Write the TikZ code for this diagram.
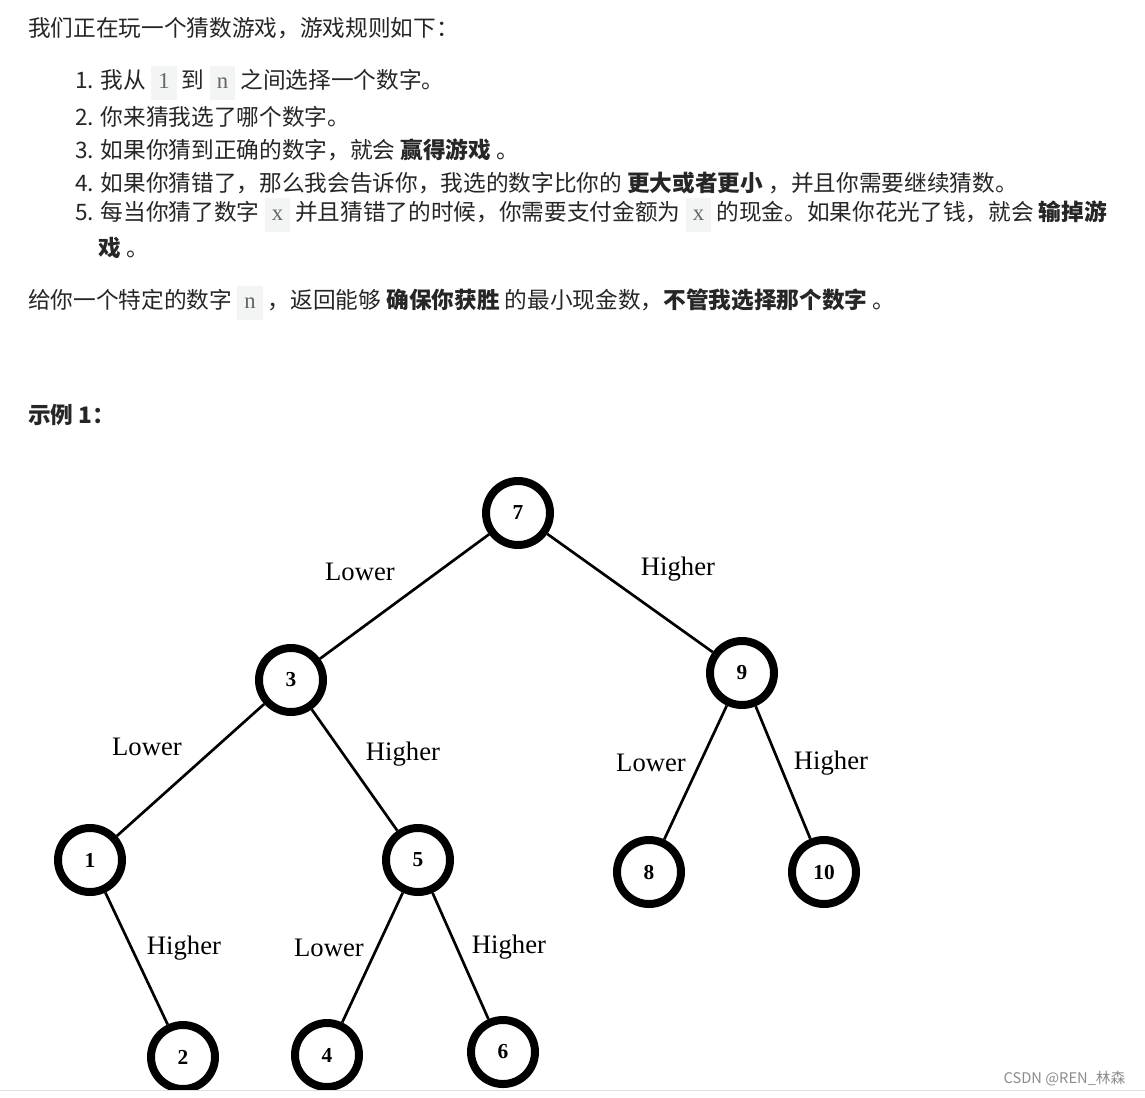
\documentclass[tikz,border=0pt]{standalone}
\usepackage{fontspec}
\setmainfont{Noto Sans CJK SC}
\newfontfamily\serif{Liberation Serif}
\setmonofont{Liberation Mono}
\definecolor{codebg}{HTML}{F3F4F4}
\definecolor{txt}{HTML}{262626}
\newcommand\cd[1]{{\setlength\fboxsep{2.5pt}\colorbox{codebg}{\color{black!60}\serif\strut\,#1\,}}}
\begin{document}
\begin{tikzpicture}[x=0.75pt,y=-0.75pt,
  line/.style={anchor=west,inner sep=0,font=\fontsize{17}{20}\selectfont,text=txt},
  tnode/.style={circle,draw,line width=6pt,minimum size=64*0.75pt,inner sep=0,font=\serif\bfseries\fontsize{16}{18}\selectfont},
  elab/.style={font=\serif\fontsize{20}{22}\selectfont},
  edge/.style={line width=2pt}]
\useasboundingbox (0,0) rectangle (1145,1097);
\fill[white] (0,0) rectangle (1145,1097);
\node[line] (t0) at (28,28) {我们正在玩一个猜数游戏，游戏规则如下：};
\node[line] (t1) at (75,83) {1. 我从 \cd{1} 到 \cd{n} 之间选择一个数字。};
\node[line] (t2) at (75,117) {2. 你来猜我选了哪个数字。};
\node[line] (t3) at (75,150) {3. 如果你猜到正确的数字，就会 {\bfseries 赢得游戏} 。};
\node[line] (t4) at (75,183) {4. 如果你猜错了，那么我会告诉你，我选的数字比你的 {\bfseries 更大或者更小} ，并且你需要继续猜数。};
\node[line] (t5) at (75,215) {5. 每当你猜了数字 \cd{x} 并且猜错了的时候，你需要支付金额为 \cd{x} 的现金。如果你花光了钱，就会 {\bfseries 输掉游}};
\node[line] (t6) at (98,248) {{\bfseries 戏} 。};
\node[line] (t7) at (28,303) {给你一个特定的数字 \cd{n} ，返回能够 {\bfseries 确保你获胜} 的最小现金数，{\bfseries 不管我选择那个数字} 。};
\node[line] (t8) at (28,415) {{\bfseries 示例 1：}};
\node[tnode] (n7) at (518,513) {7};
\node[tnode] (n3) at (291,680) {3};
\node[tnode] (n9) at (742,673) {9};
\node[tnode] (n1) at (90,860) {1};
\node[tnode] (n5) at (418,860) {5};
\node[tnode] (n8) at (649,872) {8};
\node[tnode] (n10) at (824,872) {10};
\node[tnode] (n2) at (183,1057) {2};
\node[tnode] (n4) at (327,1055) {4};
\node[tnode] (n6) at (503,1052) {6};
\draw[edge] (n7)--(n3); \draw[edge] (n7)--(n9);
\draw[edge] (n3)--(n1); \draw[edge] (n3)--(n5);
\draw[edge] (n9)--(n8); \draw[edge] (n9)--(n10);
\draw[edge] (n1)--(n2); \draw[edge] (n5)--(n4); \draw[edge] (n5)--(n6);
\node[elab] (l1) at (360,572) {Lower};
\node[elab] (l2) at (678,569) {Higher};
\node[elab] (l3) at (147,747) {Lower};
\node[elab] (l4) at (403,754) {Higher};
\node[elab] (l5) at (651,763) {Lower};
\node[elab] (l6) at (831,763) {Higher};
\node[elab] (l7) at (184,948) {Higher};
\node[elab] (l8) at (329,948) {Lower};
\node[elab] (l9) at (509,947) {Higher};
\fill[white] (0,1090) rectangle (1145,1097);
\draw[black!12,line width=0.75pt] (0,1090) -- (1145,1090);
\node[anchor=east,text=black!45,font=\fontsize{11}{12}\selectfont] (wm) at (1130,1079) {CSDN @REN\_林森};
\end{tikzpicture}
\end{document}
